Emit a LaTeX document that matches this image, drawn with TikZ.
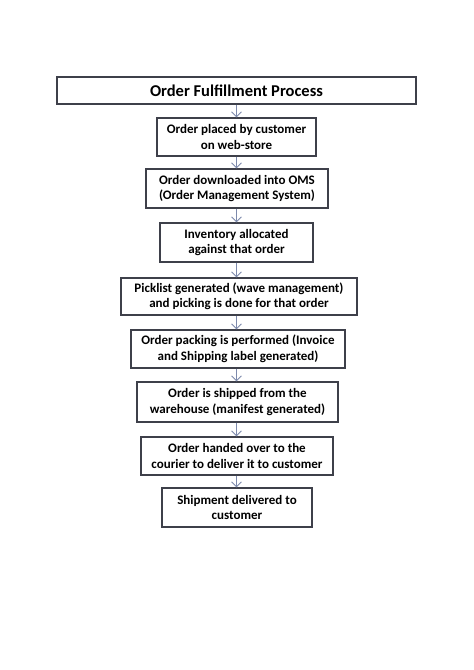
\documentclass[tikz,border=0pt]{standalone}
\usepackage{fontspec}
\setmainfont{Carlito}
\usetikzlibrary{arrows.meta}
\definecolor{boxline}{RGB}{62,64,74}
\definecolor{arrowblue}{RGB}{125,138,172}
\tikzset{
  box/.style={draw=boxline, line width=1.1pt, align=center, inner sep=2pt,
    font=\fontsize{13}{15.5}\selectfont\bfseries},
  flowarrow/.style={draw=arrowblue, line width=0.9pt,
    -{Straight Barb[length=5pt,width=10pt]}}
}
\begin{document}
\begin{tikzpicture}[x=1pt,y=-1pt]
  \useasboundingbox (0,0) rectangle (474,670);

  \node[box, minimum width=359pt, minimum height=27pt,
        font=\fontsize{16.5}{19}\selectfont\bfseries] (title) at (236.5,90.5)
        {Order Fulfillment Process};

  \node[box, minimum width=159pt, minimum height=38pt] (placed) at (236.5,137)
        {Order placed by customer\\on web-store};
  \node[box, minimum width=182pt, minimum height=39pt] (oms) at (237,188.5)
        {Order downloaded into OMS\\(Order Management System)};
  \node[box, minimum width=153pt, minimum height=39pt] (alloc) at (236.5,242.5)
        {Inventory allocated\\against that order};
  \node[box, minimum width=236pt, minimum height=37pt] (pick) at (239,296.5)
        {Picklist generated (wave management)\\and picking is done for that order};
  \node[box, minimum width=214pt, minimum height=38pt] (pack) at (238,349)
        {Order packing is performed (Invoice\\and Shipping label generated)};
  \node[box, minimum width=201pt, minimum height=40pt] (ship) at (237.5,402)
        {Order is shipped from the\\warehouse (manifest generated)};
  \node[box, minimum width=192pt, minimum height=38pt] (courier) at (237,456)
        {Order handed over to the\\courier to deliver it to customer};
  \node[box, minimum width=150pt, minimum height=39pt] (deliv) at (237,507.5)
        {Shipment delivered to\\customer};

  % arrows between steps
  \foreach \a/\b in {title/placed, placed/oms, oms/alloc, alloc/pick,
                     pick/pack, pack/ship, ship/courier, courier/deliv}
    \draw[flowarrow] (\a.south -| 236.5,0) -- (\b.north -| 236.5,0);
\end{tikzpicture}
\end{document}
